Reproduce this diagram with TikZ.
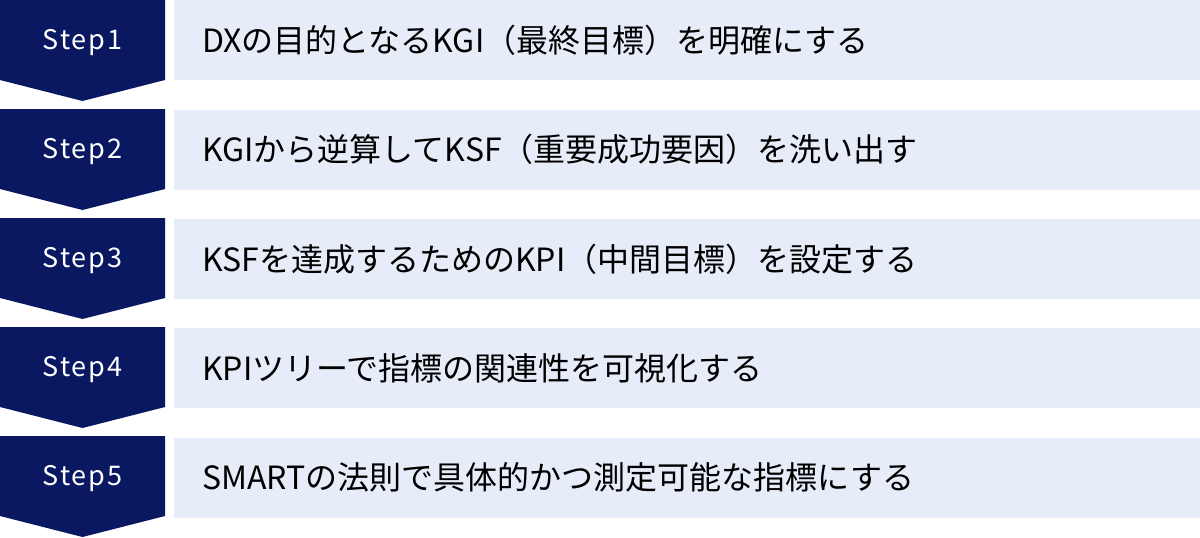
\documentclass[tikz,border=0pt]{standalone}
\usepackage{fontspec}
\setmainfont{Noto Sans CJK JP}
\newfontfamily\stepfont[LetterSpace=7]{Noto Sans CJK JP}
\usetikzlibrary{positioning}
\definecolor{navy}{HTML}{0A1862}
\definecolor{lavender}{HTML}{E6ECF8}

\begin{document}
\begin{tikzpicture}[x=1pt,y=-1pt,
  stepname/.style={text=white,inner sep=0pt,anchor=base,font=\stepfont\fontsize{27}{32}\selectfont},
  itembox/.style={fill=lavender,minimum width=1026pt,minimum height=80pt,
    inner xsep=28pt,inner ysep=0pt,text width=970pt,align=left,
    font=\fontsize{32}{38}\selectfont}]
\useasboundingbox (0,0) rectangle (1200,538);
% step 1
\fill[navy] (0,0) -- (165,0) -- (165,80) -- (82.5,101) -- (0,80) -- cycle;
\node[stepname] (s1) at (82.5,49.5) {Step1};
\node[itembox,anchor=north west] (k1) at (174,0) {DXの目的となるKGI（最終目標）を明確にする};
% step 2
\fill[navy] (0,109) -- (165,109) -- (165,189) -- (82.5,210) -- (0,189) -- cycle;
\node[stepname] (s2) at (82.5,158.5) {Step2};
\node[itembox,below=29pt of k1] (k2) {KGIから逆算してKSF（重要成功要因）を洗い出す};
% step 3
\fill[navy] (0,218) -- (165,218) -- (165,298) -- (82.5,319) -- (0,298) -- cycle;
\node[stepname] (s3) at (82.5,267.5) {Step3};
\node[itembox,below=29pt of k2] (k3) {KSFを達成するためのKPI（中間目標）を設定する};
% step 4
\fill[navy] (0,327) -- (165,327) -- (165,407) -- (82.5,428) -- (0,407) -- cycle;
\node[stepname] (s4) at (82.5,376.5) {Step4};
\node[itembox,below=29pt of k3] (k4) {KPIツリーで指標の関連性を可視化する};
% step 5
\fill[navy] (0,436) -- (165,436) -- (165,516) -- (82.5,537) -- (0,516) -- cycle;
\node[stepname] (s5) at (82.5,485.5) {Step5};
\node[itembox,below=29pt of k4] (k5) {SMARTの法則で具体的かつ測定可能な指標にする};
\end{tikzpicture}
\end{document}
